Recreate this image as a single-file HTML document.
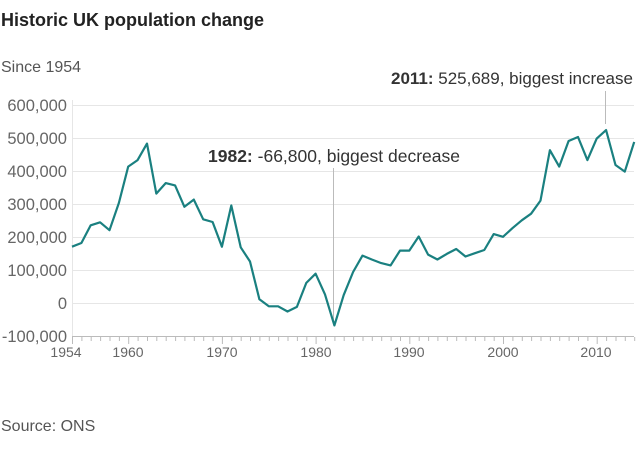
<!DOCTYPE html>
<html><head><meta charset="utf-8"><style>
body{margin:0;background:#fff;width:640px;height:457px;overflow:hidden;font-family:"Liberation Sans",Arial,sans-serif}
</style></head><body>
<svg width="640" height="457" xmlns="http://www.w3.org/2000/svg" font-family="Liberation Sans, Arial, sans-serif">
<text x="1" y="26" font-size="18" font-weight="bold" fill="#222">Historic UK population change</text>
<text x="1" y="72" font-size="16" fill="#555">Since 1954</text>
<g stroke="#e6e6e6" stroke-width="1">
<line x1="72" x2="634" y1="105.5" y2="105.5"/><line x1="72" x2="634" y1="138.5" y2="138.5"/>
<line x1="72" x2="634" y1="171.5" y2="171.5"/><line x1="72" x2="634" y1="204.5" y2="204.5"/>
<line x1="72" x2="634" y1="237.5" y2="237.5"/><line x1="72" x2="634" y1="270.5" y2="270.5"/>
<line x1="72" x2="634" y1="303.5" y2="303.5"/>
</g>
<line x1="72" x2="634" y1="336.5" y2="336.5" stroke="#bbb"/>
<line x1="72.5" x2="72.5" y1="100" y2="336" stroke="#e6e6e6"/>
<g font-size="16.5" fill="#666" text-anchor="end">
<text x="67" y="111">600,000</text><text x="67" y="144">500,000</text><text x="67" y="177">400,000</text>
<text x="67" y="210">300,000</text><text x="67" y="243">200,000</text><text x="67" y="276">100,000</text>
<text x="67" y="309">0</text><text x="67" y="342">-100,000</text>
</g>
<path stroke="#bbb" fill="none" d="M72.5 337v7M81.9 337v4M91.2 337v4M100.6 337v4M110 337v4M119.4 337v4M128.7 337v7M138.1 337v4M147.5 337v4M156.8 337v4M166.2 337v4M175.6 337v4M184.9 337v4M194.3 337v4M203.7 337v4M213.1 337v4M222.4 337v7M231.8 337v4M241.2 337v4M250.5 337v4M259.9 337v4M269.3 337v4M278.6 337v4M288 337v4M297.4 337v4M306.8 337v4M316.1 337v7M325.5 337v4M334.9 337v4M344.2 337v4M353.6 337v4M363 337v4M372.3 337v4M381.7 337v4M391.1 337v4M400.5 337v4M409.8 337v7M419.2 337v4M428.6 337v4M437.9 337v4M447.3 337v4M456.7 337v4M466 337v4M475.4 337v4M484.8 337v4M494.2 337v4M503.5 337v7M512.9 337v4M522.3 337v4M531.6 337v4M541 337v4M550.4 337v4M559.7 337v4M569.1 337v4M578.5 337v4M587.9 337v4M597.2 337v7M606.6 337v4M616 337v4M625.3 337v4M634.7 337v4"/>
<g font-size="14" fill="#666" text-anchor="middle">
<text x="66" y="357">1954</text><text x="128" y="357">1960</text><text x="222" y="357">1970</text>
<text x="316" y="357">1980</text><text x="409" y="357">1990</text><text x="503" y="357">2000</text><text x="596" y="357">2010</text>
</g>
<line x1="333.5" x2="333.5" y1="168" y2="322" stroke="#bbb"/>
<line x1="605.5" x2="605.5" y1="91" y2="124" stroke="#bbb"/>
<text x="208" y="162" font-size="17.5" fill="#333"><tspan font-weight="bold">1982:</tspan> -66,800, biggest decrease</text>
<text x="391" y="84" font-size="17" fill="#333"><tspan font-weight="bold">2011:</tspan> 525,689, biggest increase</text>
<polyline fill="none" stroke="#1a8080" stroke-width="2.2" stroke-linejoin="round" points="72,246.7 81.4,243 90.7,225.3 100.1,222.3 109.5,230.2 118.9,202.9 128.2,166.6 137.6,160.1 147,143.6 156.3,193.6 165.7,183.1 175.1,185.4 184.4,206.8 193.8,199.6 203.2,219.3 212.6,222 221.9,246.7 231.3,205.5 240.7,247.3 250,261.5 259.4,299.3 268.8,306.3 278.1,306.3 287.5,311.5 296.9,306.9 306.3,282.9 315.6,273.7 325,294.4 334.4,325.4 343.7,295.1 353.1,272 362.5,255.6 371.8,259.5 381.2,263.1 390.6,265.4 400,250.6 409.3,250.6 418.7,236.5 428.1,254.6 437.4,259.5 446.8,253.9 456.2,249 465.5,256.5 474.9,253.2 484.3,250 493.7,234.1 503,236.8 512.4,228.2 521.8,220.3 531.1,213.7 540.5,200.6 549.9,150.2 559.2,166.6 568.6,141 578,137 587.4,160.1 596.7,138.6 606.1,130.1 615.5,165 624.8,171.6 634.2,141.9"/>
<text x="1" y="431" font-size="16" fill="#555">Source: ONS</text>
</svg>
</body></html>
